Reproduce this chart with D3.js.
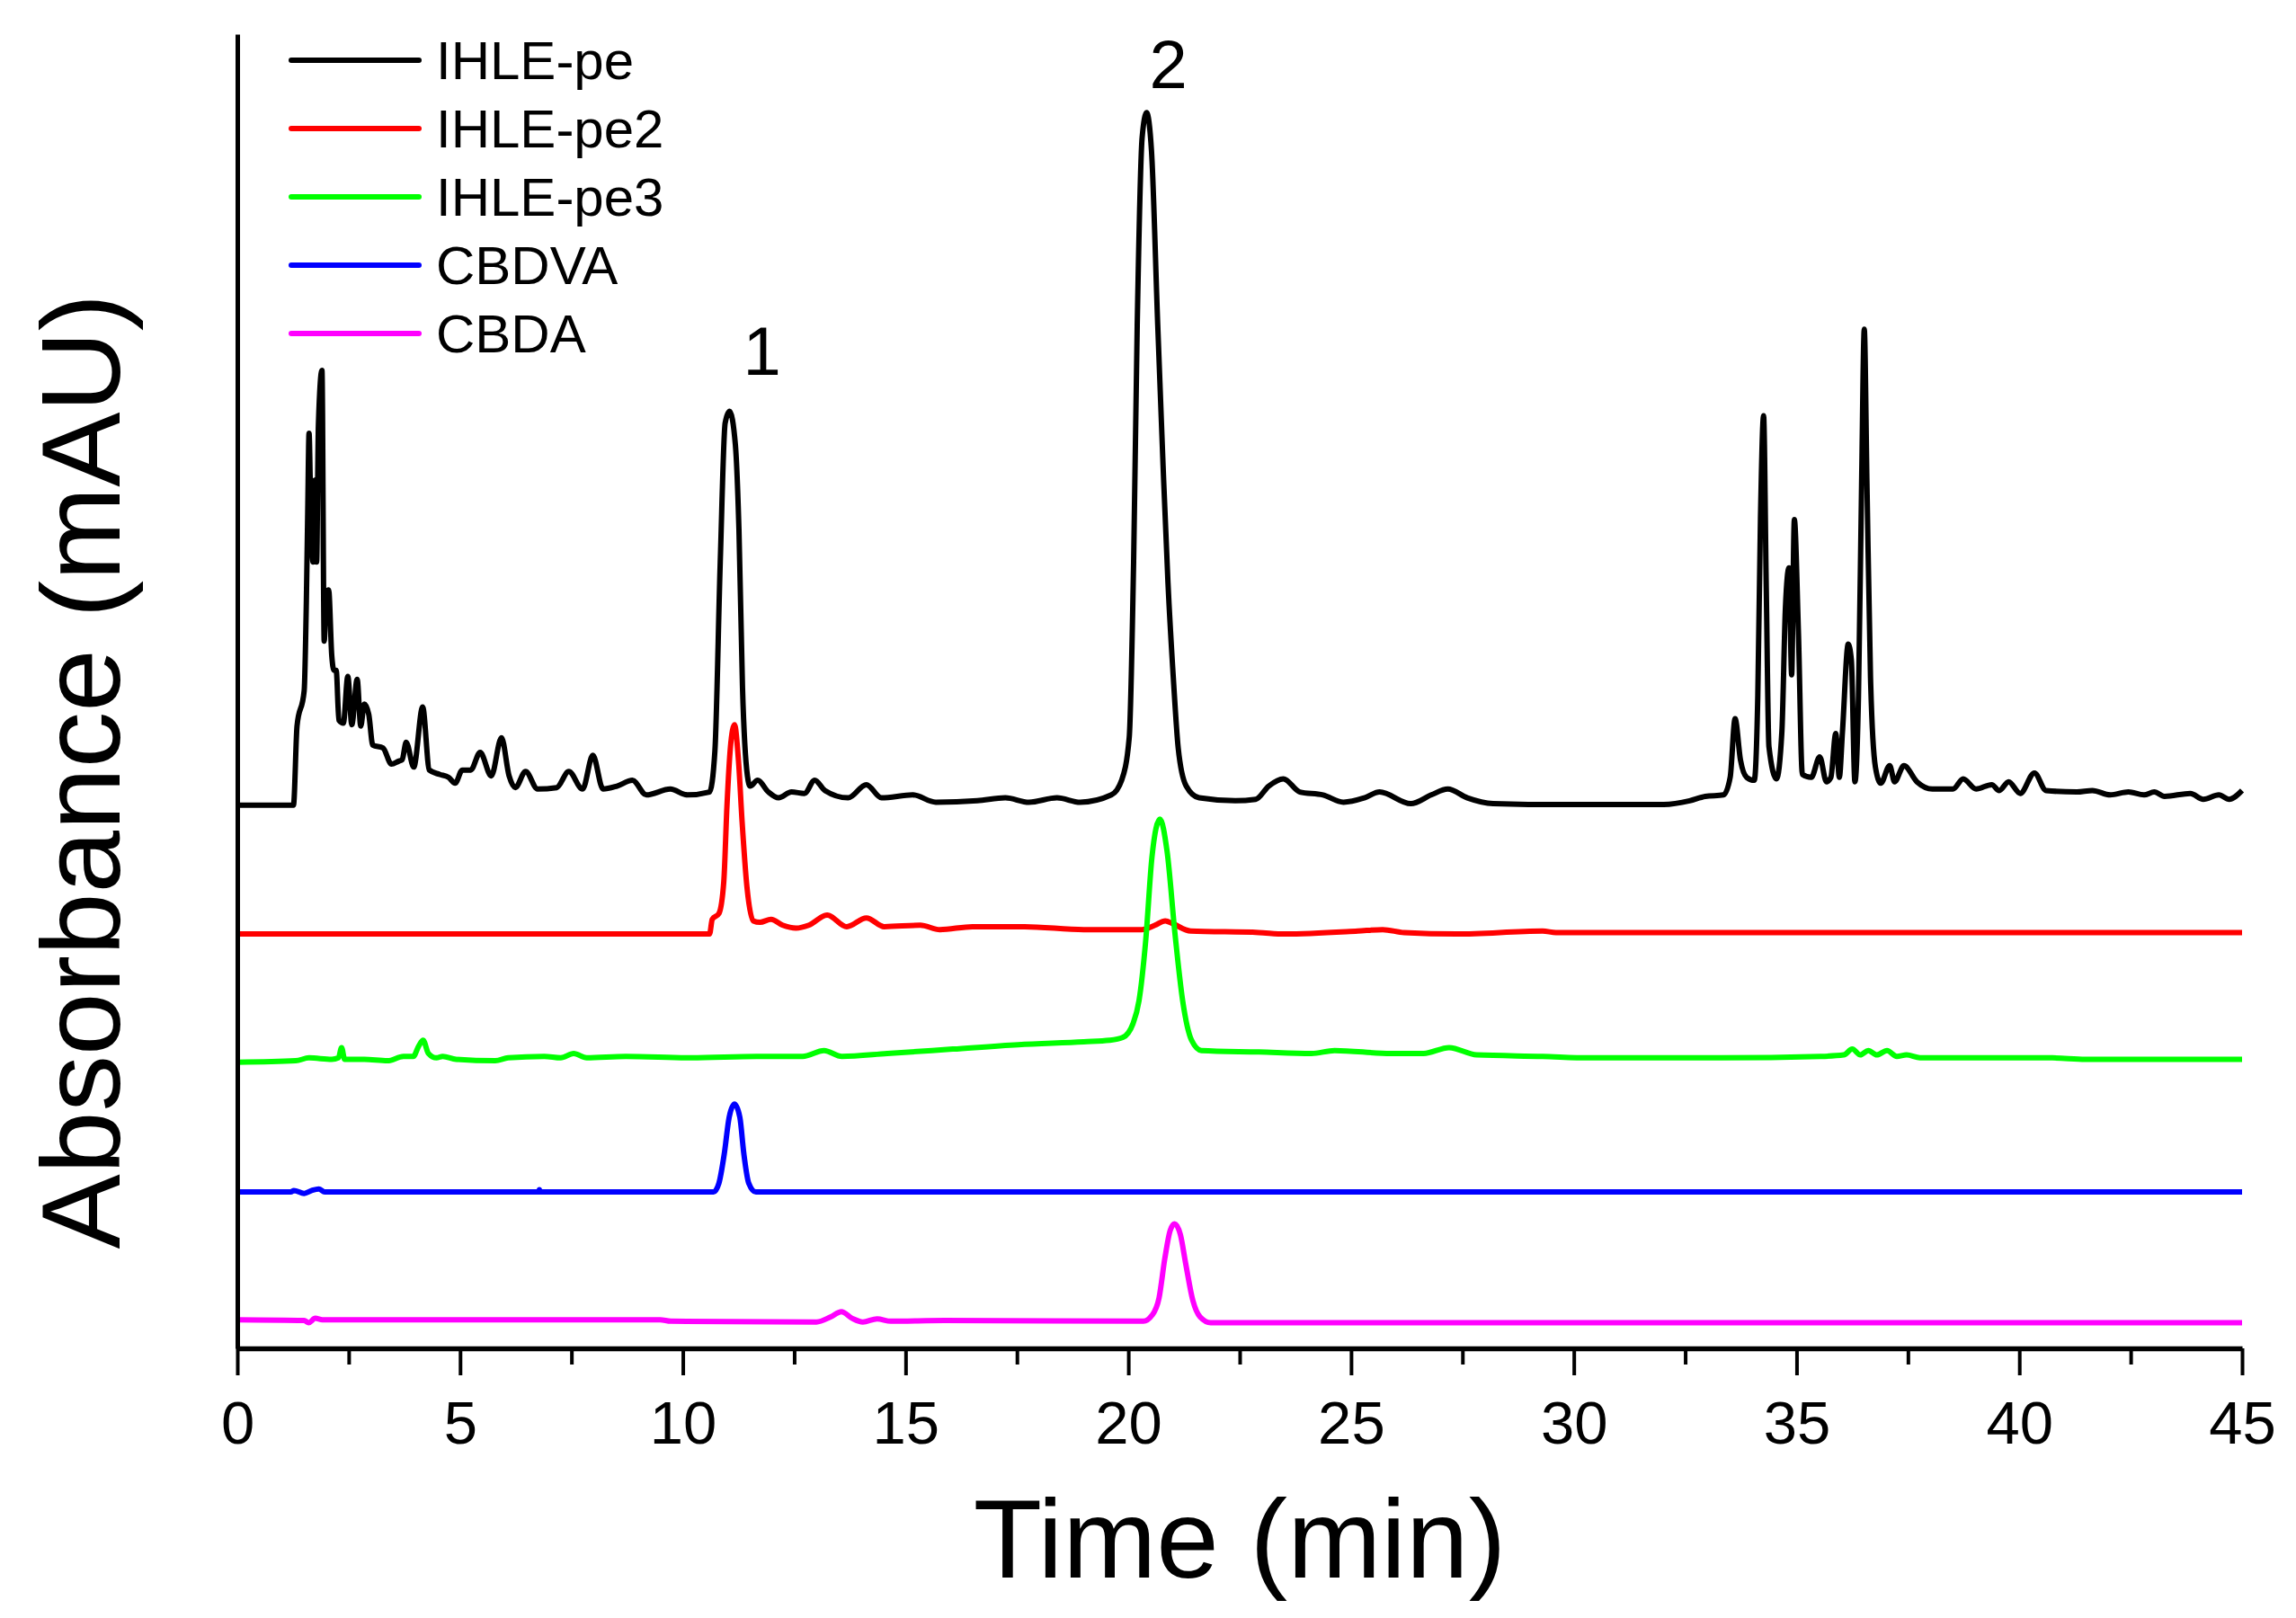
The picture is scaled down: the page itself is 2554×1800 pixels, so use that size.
<!DOCTYPE html>
<html>
<head>
<meta charset="utf-8">
<script src="https://cdn.jsdelivr.net/npm/d3@7"></script>
<style>
	html, body { margin: 0; padding: 0; background: #fff; }
	svg { display: block; font-family: "Liberation Sans", Arial, sans-serif; }
</style>
</head>
<body>
<svg id="chart"></svg>
<script>
// chromatogram data: [time (min), absorbance above the trace's own baseline]
const seriesNames = ["IHLE-pe", "IHLE-pe2", "IHLE-pe3", "CBDVA", "CBDA"];
const seriesOffsets = [371, 283, 195.4, 106.8, 19.5];

const ihlePe = [[0,0],[1.26,0],[1.34,54],[1.50,78],[1.55,140],[1.58,200],[1.61,254],[1.65,200],[1.70,166],[1.74,222],[1.78,166],[1.82,260],[1.90,297],[1.95,112],[2.00,145],[2.05,147],[2.12,102],[2.17,92],[2.22,92],[2.28,58],[2.38,56],[2.48,88],[2.57,55],[2.69,86],[2.77,54],[2.85,69],[2.95,62],[3.04,41],[3.27,39],[3.46,28],[3.62,30],[3.70,31],[3.79,43],[3.96,26],[4.16,67],[4.31,24],[4.54,21],[4.74,19],[4.89,15],[5.05,24],[5.24,24],[5.45,36],[5.70,20],[5.93,46],[6.10,20],[6.24,12],[6.47,23],[6.74,11],[7.17,12],[7.44,23],[7.75,11],[7.98,34],[8.21,11],[8.52,13],[8.87,17],[9.18,7],[9.72,11],[10.1,7],[10.6,9],[10.72,37],[10.84,166],[10.95,261],[11.05,269],[11.18,246],[11.26,188],[11.34,80],[11.45,20],[11.51,13],[11.68,17],[11.92,9],[12.15,5],[12.44,9],[12.73,8],[12.96,17],[13.19,10],[13.71,5],[14.12,14],[14.46,5],[15.16,7],[15.68,2],[16.61,3],[17.24,5],[17.77,2],[18.40,5],[18.92,2],[19.62,7],[19.85,17],[20.02,46],[20.12,168],[20.20,328],[20.31,456],[20.41,473],[20.52,447],[20.66,328],[20.78,232],[20.89,152],[21.01,87],[21.12,39],[21.30,13],[21.59,5],[22.4,3],[22.86,4],[23.15,13],[23.48,18],[23.85,9],[24.37,7],[24.83,2],[25.3,5],[25.64,9],[26.34,1],[26.80,7],[27.17,11],[27.61,5],[28.19,1],[28.98,0.5],[32.02,0.5],[32.6,3],[32.95,6],[33.36,7],[33.51,19],[33.62,59],[33.74,31],[33.88,19],[34.05,17],[34.13,75],[34.19,196],[34.26,266],[34.32,148],[34.38,40],[34.55,18],[34.67,50],[34.75,135],[34.83,162],[34.89,89],[34.95,195],[35.04,120],[35.13,21],[35.33,19],[35.52,33],[35.67,16],[35.77,19],[35.88,49],[35.96,19],[36.03,50],[36.16,110],[36.23,99],[36.31,16],[36.39,75],[36.46,220],[36.52,325],[36.58,220],[36.66,87],[36.77,26],[36.89,15],[37.09,27],[37.2,16],[37.41,27],[37.70,16],[38.05,11],[38.51,11],[38.74,18],[39.03,11],[39.38,14],[39.55,10],[39.76,16],[40.02,8],[40.34,22],[40.6,10],[41.29,9],[41.64,10],[42.04,7],[42.45,9],[42.8,7],[43.03,9],[43.26,6],[43.84,8],[44.13,4],[44.48,7],[44.71,4],[45,10]];

const ihlePe2 = [[0,0],[10.6,0],[10.66,10],[10.81,14],[10.92,36],[10.99,87],[11.07,128],[11.16,143],[11.25,118],[11.33,77],[11.44,32],[11.58,9],[11.73,8],[11.98,10],[12.24,6],[12.54,4],[12.83,6],[13.24,13],[13.68,5],[14.12,11],[14.52,5],[15.33,6],[15.77,3],[16.5,5],[17.67,5],[19.0,3],[20.3,3],[20.6,6],[20.83,9],[21.0,7],[21.4,2],[22.93,1],[23.51,0],[25.15,2],[25.71,3],[26.19,1],[27.37,0],[29.3,2],[29.6,1],[45,1]];

const ihlePe3 = [[0,0],[1.31,1],[1.61,3],[2.12,2],[2.27,3],[2.34,10],[2.41,2],[2.85,2],[3.37,1],[3.73,4],[3.95,4],[4.07,11],[4.17,15],[4.29,6],[4.47,3],[4.61,4],[4.91,2],[5.79,1],[6.08,3],[6.89,4],[7.26,3],[7.55,6],[7.84,3],[8.72,4],[10.19,3],[11.66,4],[12.69,4],[13.17,8],[13.57,4],[14.59,6],[16.06,9],[17.53,12],[19.0,14],[19.58,15],[19.88,17],[20.1,26],[20.24,42],[20.39,83],[20.53,140],[20.71,166],[20.87,144],[21.05,87],[21.22,42],[21.42,15],[21.64,8],[22.93,7],[24.11,6],[24.63,8],[25.89,6],[26.63,6],[27.2,10],[27.82,5],[29.3,4],[30.34,3],[33.31,3],[35.54,4],[36.06,5],[36.25,9],[36.43,5],[36.61,8],[36.8,5],[37.03,8],[37.25,4],[37.47,5],[37.77,3],[39.25,3],[40.74,3],[41.48,2],[45,2]];

const cbdva = [[0,0],[1.2,0],[1.27,1],[1.5,-1],[1.67,1],[1.83,2],[1.96,0],[6.76,0],[6.78,1.5],[6.80,0],[10.69,0],[10.81,6],[10.93,26],[11.04,51],[11.16,60],[11.28,51],[11.37,26],[11.48,6],[11.64,0],[45,0]];

const cbda = [[0,0],[1.5,-0.5],[1.6,-2],[1.75,1],[1.91,0],[9.49,0],[9.73,-1],[13.0,-1.5],[13.32,2],[13.56,5.5],[13.8,1],[14.04,-1.5],[14.36,0.6],[14.67,-1],[15.87,-0.5],[20.34,-1],[20.53,3],[20.69,15],[20.82,42],[20.94,61],[21.04,65.5],[21.17,58],[21.29,38],[21.45,13],[21.61,2],[21.85,-2],[45,-2]];

const xMajorTicks = [0, 5, 10, 15, 20, 25, 30, 35, 40, 45];
const xMinorTicks = [2.5, 7.5, 12.5, 17.5, 22.5, 27.5, 32.5, 37.5, 42.5];

// peak numbers above peak 1 and peak 2
const peakLabels = ["1", "2"];
const peakLabelTimes = [11.78, 20.9];
const peakLabelValues = [665, 861];

const seriesData = [ihlePe, ihlePe2, ihlePe3, cbdva, cbda];
const colours = ["#000000", "#ff0000", "#00ff00", "#0000ff", "#ff00ff"];

class chromatogramChart {

	createGraph() {
		let width = 2554;
		let height = 1800;
		let plot = { "left": 264, "right": 2494, "top": 38, "bottom": 1500 };

		let scaleX = d3.scaleLinear()
			.domain([0, 45])
			.range([plot.left, plot.right]);

		let scaleY = d3.scaleLinear()
			.domain([0, 897.6])
			.range([plot.bottom, plot.top]);

		let svg = d3.select("#chart")
			.attr("width", width)
			.attr("height", height);

		// traces, each lifted by its own offset
		let line = d3.line()
			.curve(d3.curveMonotoneX)
			.x(d => scaleX(d[0]))
			.y(d => scaleY(d[1]));

		svg.append("g")
			.selectAll("path")
			.data(seriesData.map((s, i) => s.map(p => [p[0], p[1] + seriesOffsets[i]])))
			.join("path")
			.attr("d", line)
			.attr("fill", "none")
			.attr("stroke", (d, i) => colours[i])
			.attr("stroke-width", 6)
			.attr("stroke-linejoin", "round");

		// x axis with major and minor ticks
		let xAxis = svg.append("g")
			.attr("transform", "translate(0," + plot.bottom + ")")
			.call(d3.axisBottom(scaleX)
				.tickValues(xMajorTicks)
				.tickFormat(d3.format("d"))
				.tickSize(30)
				.tickSizeOuter(0)
				.tickPadding(28));
		xAxis.select(".domain").attr("stroke-width", 5.5);
		xAxis.selectAll(".tick line").attr("stroke-width", 4);
		xAxis.selectAll("text")
			.attr("font-size", 67)
			.attr("font-family", "Liberation Sans, Arial, sans-serif")
			.attr("fill", "#000");

		let xMinor = svg.append("g")
			.attr("transform", "translate(0," + plot.bottom + ")")
			.call(d3.axisBottom(scaleX)
				.tickValues(xMinorTicks)
				.tickFormat("")
				.tickSize(18)
				.tickSizeOuter(0));
		xMinor.select(".domain").remove();
		xMinor.selectAll(".tick line").attr("stroke-width", 4);

		// y axis: a bare line, no ticks
		let yAxis = svg.append("g")
			.attr("transform", "translate(" + plot.left + ",0)")
			.call(d3.axisLeft(scaleY).tickValues([]).tickSizeOuter(0));
		yAxis.select(".domain").attr("stroke-width", 5);

		// axis titles
		svg.append("text")
			.attr("x", (plot.left + plot.right) / 2)
			.attr("y", 1755)
			.attr("text-anchor", "middle")
			.attr("font-size", 125)
			.text("Time (min)");

		svg.append("text")
			.attr("transform", "translate(133,858) rotate(-90)")
			.attr("text-anchor", "middle")
			.attr("font-size", 125)
			.text("Absorbance (mAU)");

		// peak numbers
		svg.append("g")
			.selectAll("text")
			.data(peakLabels)
			.join("text")
			.attr("x", (d, i) => scaleX(peakLabelTimes[i]))
			.attr("y", (d, i) => scaleY(peakLabelValues[i]))
			.attr("text-anchor", "middle")
			.attr("font-size", 76)
			.text(d => d);

		// legend
		let legend = svg.append("g")
			.selectAll("g")
			.data(seriesNames)
			.join("g")
			.attr("transform", (d, i) => "translate(324," + (67 + i * 76) + ")");

		legend.append("line")
			.attr("x1", 0)
			.attr("x2", 142)
			.attr("stroke", (d, i) => colours[i])
			.attr("stroke-width", 6)
			.attr("stroke-linecap", "round");

		legend.append("text")
			.attr("x", 161)
			.attr("dy", "0.35em")
			.attr("font-size", 60)
			.text(d => d);
	}
}

new chromatogramChart().createGraph();
</script>
</body>
</html>
